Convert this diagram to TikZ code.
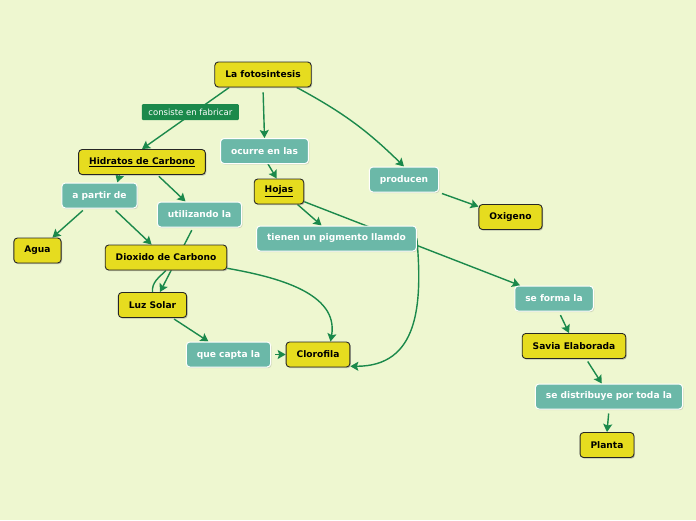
\documentclass[tikz,border=0pt]{standalone}
\usepackage{fontspec}
\setmainfont{DejaVu Sans}
\usetikzlibrary{arrows.meta,shadows}
\definecolor{fondo}{HTML}{EEF7D0}
\definecolor{amarillo}{HTML}{E6DC1F}
\definecolor{turquesa}{HTML}{6BB8A8}
\definecolor{verde}{HTML}{1B894B}
\pgfdeclarelayer{atras}
\pgfsetlayers{atras,main}

\begin{document}
\begin{tikzpicture}[x=1pt, y=1pt, every node/.style={font=\fontsize{9.1}{10}\selectfont\bfseries, align=center},
  concepto/.style={draw=black!85, line width=0.9pt, rounded corners=3.5pt, fill=amarillo, minimum height=25pt, inner xsep=10.5pt, drop shadow={shadow xshift=1pt, shadow yshift=-1.2pt, opacity=0.45}},
  enlace/.style={draw=white, line width=1pt, rounded corners=3.5pt, fill=turquesa, text=white, minimum height=25pt, inner xsep=10.5pt, drop shadow={shadow xshift=1pt, shadow yshift=-1.2pt, opacity=0.25}},
  etiqueta/.style={fill=verde, text=white, font=\fontsize{8.5}{10}\selectfont, inner xsep=6.5pt, minimum height=16pt, rounded corners=1pt},
  flecha/.style={draw=verde, line width=1.4pt, -{Stealth[length=8pt, width=9pt, inset=1.5pt]}},
  linea/.style={draw=verde, line width=1.4pt}]
\useasboundingbox (0,0) rectangle (696,-520);
\node[concepto] (foto) at (263,-74.5) {La fotosintesis};
\node[concepto] (hidratos) at (142,-162) {\underline{Hidratos de Carbono}};
\node[enlace] (ocurre) at (264.5,-151) {ocurre en las};
\node[enlace] (producen) at (404,-179.5) {producen};
\node[concepto] (hojas) at (279,-191.5) {\underline{Hojas}};
\node[enlace] (apartir) at (99.5,-195.5) {a partir de};
\node[enlace] (utilizando) at (199.5,-214.5) {utilizando la};
\node[concepto] (oxigeno) at (510.5,-217) {Oxigeno};
\node[enlace] (pigmento) at (336.5,-238.5) {tienen un pigmento llamdo};
\node[concepto] (agua) at (37.5,-250.5) {Agua};
\node[concepto] (dioxido) at (166,-257.5) {Dioxido de Carbono};
\node[enlace] (forma) at (554,-298.5) {se forma la};
\node[concepto] (luz) at (152.5,-305) {Luz Solar};
\node[concepto] (savia) at (574,-346) {Savia Elaborada};
\node[enlace] (capta) at (228.5,-354.5) {que capta la};
\node[concepto] (clorofila) at (318,-354.5) {Clorofila};
\node[enlace] (distribuye) at (609,-396.5) {se distribuye por toda la};
\node[concepto] (planta) at (607,-445) {Planta};
\begin{pgfonlayer}{atras}
\fill[fondo] (0,0) rectangle (696,-520);
\draw[flecha] (foto.201) -- node[etiqueta, pos=0.4, xshift=-4pt] (fabricar) {consiste en fabricar} (hidratos.north);
\draw[flecha, shorten <=5pt] (foto.south) -- (ocurre.north); \draw[flecha] (foto.339) to[bend left=8] (producen.north);
\draw[flecha] (ocurre.-75) -- (hojas.100); \draw[flecha] (hidratos.210) -- (apartir.36);
\draw[flecha, shorten <=2pt] (hidratos.-40) -- (utilizando.137);
\draw[flecha, shorten <=3pt] (apartir.222) -- (agua.41); \draw[flecha, shorten <=3pt] (apartir.-43) -- (dioxido.138);
\draw[flecha, shorten <=3pt] (utilizando.244) -- (luz.60); \draw[linea] (dioxido.south) to[out=-135, in=95] (luz.north);
\draw[flecha] (dioxido.350) to[out=-10, in=80] (clorofila.46);
\draw[flecha] (pigmento.east) to[out=-85, in=0, looseness=1.2] (clorofila.-20);
\draw[flecha] (hojas.-35) -- (pigmento.139); \draw[flecha] (hojas.-22) -- (forma.159);
\draw[flecha, shorten <=3pt] (producen.south east) -- (oxigeno.162);
\draw[flecha, shorten <=4pt] (forma.-70) -- (savia.111); \draw[flecha, shorten <=3pt] (savia.-47) -- (distribuye.119);
\draw[flecha, shorten <=4pt] (distribuye.south) -- (planta.north);
\draw[flecha, shorten <=2pt] (luz.-33) -- (capta.147); \draw[flecha, shorten <=4pt] (capta.east) -- (clorofila.west);
\end{pgfonlayer}
\end{tikzpicture}
\end{document}
